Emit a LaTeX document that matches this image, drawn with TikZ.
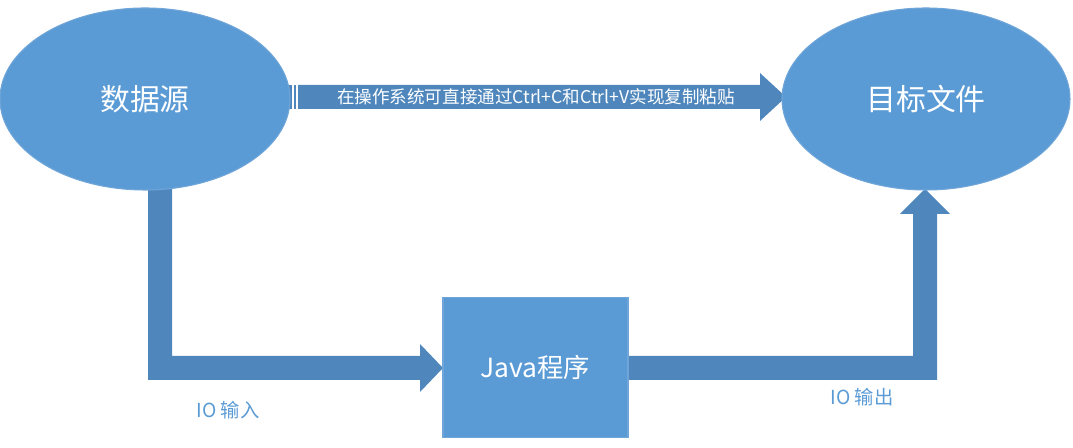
\documentclass[tikz,border=0pt]{standalone}
\usepackage{fontspec}
\usetikzlibrary{shapes.geometric}
\setmainfont{Carlito}
\newfontfamily\cjk{Noto Sans CJK SC}
\definecolor{fillA}{HTML}{5B9BD5}
\definecolor{arrA}{HTML}{4F87BD}
\definecolor{edgeA}{HTML}{6FA5D8}
\begin{document}
\begin{tikzpicture}[x=0.02cm,y=-0.02cm]
\tikzset{shp/.style={fill=fillA,draw=edgeA,line width=0.6pt},
 arr/.style={fill=arrA,draw=none},
 lbl/.style={text=white,font=\cjk\fontsize{17}{20}\selectfont}}
\useasboundingbox (0,0) rectangle (1073,448);
% top arrow
\fill[arr] (288,85) rectangle (292,109);
\fill[arr] (294,85) rectangle (296,109);
\fill[arr] (298,85) -- (760,85) -- (760,73) -- (786,97) -- (760,121) -- (760,109) -- (298,109) -- cycle;
\node[text=white,font=\cjk\fontsize{10}{12}\selectfont] (t) at (536,97) {在操作系统可直接通过Ctrl+C和Ctrl+V实现复制粘贴};
% left L arrow
\fill[arr] (148,188) -- (172,188) -- (172,356) -- (420,356) -- (420,344) -- (443,368) -- (420,392) -- (420,380) -- (148,380) -- cycle;
% right L arrow
\fill[arr] (628,356) -- (913,356) -- (913,214) -- (900,214) -- (925,189) -- (950,214) -- (937,214) -- (937,380) -- (628,380) -- cycle;
\node[shp,ellipse,minimum width=290*0.02cm,minimum height=182*0.02cm,inner sep=0] (a) at (145,99) {};
\node[lbl] at (a) {数据源};
\node[shp,ellipse,minimum width=288*0.02cm,minimum height=182*0.02cm,inner sep=0] (b) at (926,99) {};
\node[lbl] at (b) {目标文件};
\node[shp,rectangle,minimum width=185*0.02cm,minimum height=140*0.02cm,inner sep=0,draw=edgeA] (c) at (535.5,367.5) {};
\node[text=white,font=\cjk\fontsize{15}{18}\selectfont] at (c) {Java程序};
\node[text=fillA,font=\cjk\fontsize{11}{13}\selectfont] (l1) at (228,410) {IO 输入};
\node[text=fillA,font=\cjk\fontsize{11}{13}\selectfont] (l2) at (862,397) {IO 输出};
\end{tikzpicture}
\end{document}
